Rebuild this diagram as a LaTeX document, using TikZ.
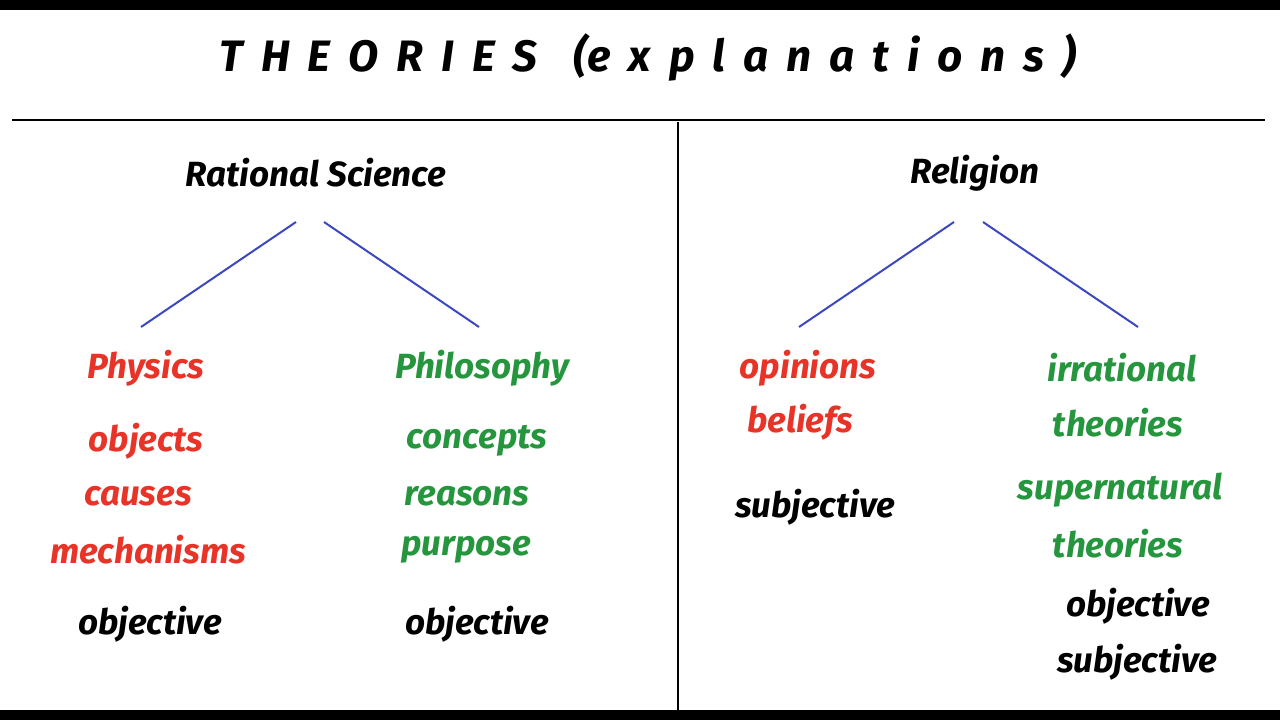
\documentclass[tikz,border=0pt]{standalone}
\usepackage{fontspec}
\setmainfont{Fira Sans}
\definecolor{rd}{RGB}{232,52,40}
\definecolor{gr}{RGB}{38,150,62}
\definecolor{bl}{RGB}{60,72,190}
\newcommand\lsp{\hspace{18pt}}
\begin{document}
\begin{tikzpicture}[x=1pt,y=-1pt,
  t/.style={font=\fontsize{35}{35}\selectfont\itshape\bfseries,inner sep=0pt},
  conn/.style={bl,line width=2pt}]
\useasboundingbox (0,0) rectangle (1280,720);
\fill[black] (0,0) rectangle (1280,10);
\fill[black] (0,710) rectangle (1280,720);
\node[t,font=\fontsize{44}{44}\selectfont\itshape\bfseries] (title) at (648,57) {T\lsp H\lsp E\lsp O\lsp R\lsp I\lsp E\lsp S\lsp\lsp(e\lsp x\lsp p\lsp l\lsp a\lsp n\lsp a\lsp t\lsp i\lsp o\lsp n\lsp s\lsp)};
\coordinate (hl) at (12,120); \coordinate (hr) at (1265,120);
\coordinate (vt) at (678,122); \coordinate (vb) at (678,710);
\draw[line width=2pt] (hl) -- (hr);
\draw[line width=2pt] (vt) -- (vb);
\node[t] (rs) at (316,173) {Rational Science};
\node[t] (rel) at (975,173) {Religion};
\coordinate (a1) at (296,222); \coordinate (a2) at (141,327);
\coordinate (b1) at (324,222); \coordinate (b2) at (479,327);
\coordinate (c1) at (954,222); \coordinate (c2) at (799,327);
\coordinate (d1) at (983,222); \coordinate (d2) at (1138,327);
\draw[conn] (a1) -- (a2); \draw[conn] (b1) -- (b2);
\draw[conn] (c1) -- (c2); \draw[conn] (d1) -- (d2);
\node[t,rd] (ph) at (146,368) {Physics};
\node[t,rd] (ob) at (146,441) {objects};
\node[t,rd] (ca) at (138,496) {causes};
\node[t,rd] (me) at (148,550) {mechanisms};
\node[t] (o1) at (150,624) {objective};
\node[t,gr] (pl) at (482,368) {Philosophy};
\node[t,gr] (co) at (477,441) {concepts};
\node[t,gr] (re) at (467,496) {reasons};
\node[t,gr] (pu) at (466,550) {purpose};
\node[t] (o2) at (477,624) {objective};
\node[t,rd] (op) at (808,368) {opinions};
\node[t,rd] (be) at (800,422) {beliefs};
\node[t] (su) at (815,507) {subjective};
\node[t,gr] (ir) at (1122,368) {irrational};
\node[t,gr] (th) at (1118,423) {theories};
\node[t,gr] (sn) at (1120,490) {supernatural};
\node[t,gr] (th2) at (1118,544) {theories};
\node[t] (o3) at (1138,606) {objective};
\node[t] (s2) at (1137,662) {subjective};
\end{tikzpicture}
\end{document}
